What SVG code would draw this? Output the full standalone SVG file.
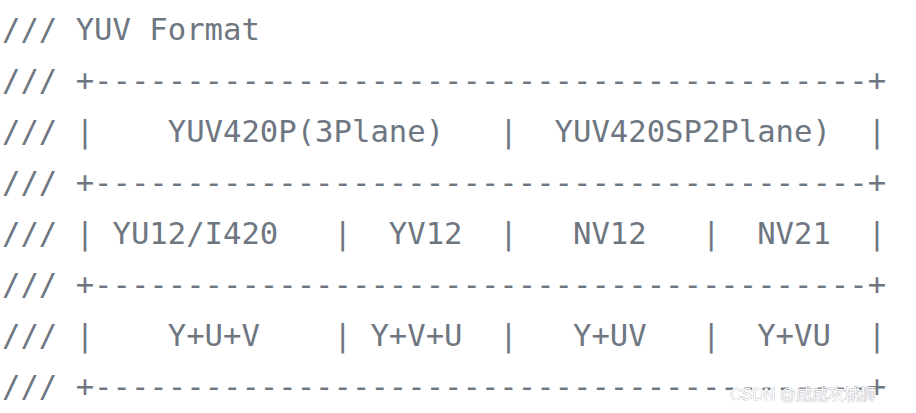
<svg xmlns="http://www.w3.org/2000/svg" width="916" height="413" viewBox="0 0 916 413">
<style>
.t{font-family:"DejaVu Sans Mono","Liberation Mono",monospace;font-size:30.6px;fill:#6e7681;white-space:pre}
.w{font-family:"Liberation Sans","Noto Sans CJK SC",sans-serif;font-size:16px;fill:#ffffff;stroke:#9aa0a8;stroke-width:0.6px;paint-order:stroke}
</style>
<rect width="916" height="413" fill="#ffffff"/>
<g id="code" class="t">
<text x="2" y="40" xml:space="preserve">/// YUV Format</text>
<text x="2" y="91" xml:space="preserve">/// +------------------------------------------+</text>
<text x="2" y="142" xml:space="preserve">/// |    YUV420P(3Plane)   |  YUV420SP2Plane)  |</text>
<text x="2" y="193" xml:space="preserve">/// +------------------------------------------+</text>
<text x="2" y="244" xml:space="preserve">/// | YU12/I420   |  YV12  |   NV12   |  NV21  |</text>
<text x="2" y="295" xml:space="preserve">/// +------------------------------------------+</text>
<text x="2" y="346" xml:space="preserve">/// |    Y+U+V    | Y+V+U  |   Y+UV   |  Y+VU  |</text>
<text x="2" y="397" xml:space="preserve">/// +------------------------------------------+</text>
</g>
<g id="watermark"><text class="w" x="730" y="400">CSDN @威威攻城狮</text></g>
</svg>
